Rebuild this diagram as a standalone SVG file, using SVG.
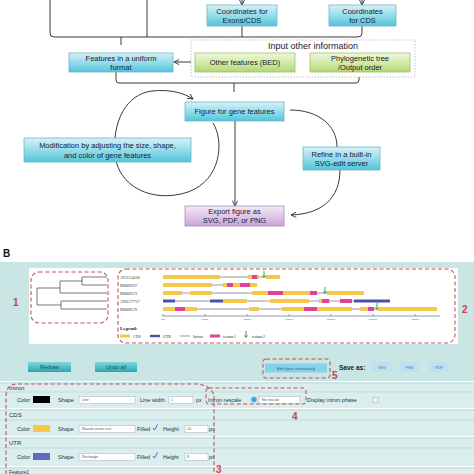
<svg xmlns="http://www.w3.org/2000/svg" width="474" height="474" viewBox="0 0 474 474">
<defs>
<linearGradient id="gc" x1="0" y1="0" x2="0" y2="1"><stop offset="0" stop-color="#d6f2f8"/><stop offset="0.5" stop-color="#96dcea"/><stop offset="1" stop-color="#52c4da"/></linearGradient>
<linearGradient id="gg" x1="0" y1="0" x2="0" y2="1"><stop offset="0" stop-color="#f0f8dc"/><stop offset="0.5" stop-color="#d3eaa8"/><stop offset="1" stop-color="#b2d777"/></linearGradient>
<linearGradient id="gp" x1="0" y1="0" x2="0" y2="1"><stop offset="0" stop-color="#f4e9f7"/><stop offset="0.5" stop-color="#e0c7ea"/><stop offset="1" stop-color="#c9a2d8"/></linearGradient>
<linearGradient id="gb" x1="0" y1="0" x2="0" y2="1"><stop offset="0" stop-color="#7fd8dc"/><stop offset="1" stop-color="#2aa6b0"/></linearGradient>
<marker id="ah" viewBox="0 0 8 8" refX="7.5" refY="4" markerWidth="6" markerHeight="6" markerUnits="userSpaceOnUse" orient="auto"><path d="M0.5,0.5 L7.5,4 L0.5,7.5" fill="none" stroke="#333" stroke-width="1.2"/></marker>
</defs>
<style>
text{font-family:"Liberation Sans",Arial,sans-serif;}
.bt{font-size:7.5px;fill:#17222f;text-anchor:middle;}
.cy{fill:url(#gc);stroke:#6cb6c6;stroke-width:0.8;}
.gr{fill:url(#gg);stroke:#9cc46a;stroke-width:0.8;}
.pu{fill:url(#gp);stroke:#a98cb8;stroke-width:0.8;}
.ln{fill:none;stroke:#3a3a3a;stroke-width:1;}
.rd{fill:none;stroke:#c4545a;stroke-width:1.1;stroke-dasharray:4 2.5;}
.rl{font-size:10px;font-weight:bold;fill:#d0404a;}
.gn{stroke:#7c7c92;stroke-width:0.8;}
.cds{fill:#f6c84a;}
.utr{fill:#4e50a8;}
.f1{fill:#e0409a;}
.f2{stroke:#3d9b3d;stroke-width:1;fill:none;}
.nm{font-family:"Liberation Serif",serif;font-size:4px;fill:#333;}
.tk{font-family:"Liberation Serif",serif;font-size:2.8px;fill:#555;text-anchor:middle;}
.fm{font-size:5.5px;fill:#263636;}
.hd{font-size:6px;fill:#263636;}
.sel{fill:#ffffff;stroke:#a8b0b0;stroke-width:0.5;}
.st{font-size:3.6px;fill:#555;}
.sep{stroke:#ffffff;stroke-width:1.2;}
.sep2{stroke:#b9d2d1;stroke-width:0.7;}
.tree{stroke:#555;stroke-width:0.8;fill:none;}
</style>
<rect width="474" height="474" fill="#ffffff"/>

<g id="connectors">
<path class="ln" d="M50,0 V33 Q50,37 54,37 H358 Q362,37 362,33 V26"/>
<path class="ln" d="M147,0 V37"/>
<path class="ln" d="M242,26 V37"/>
<path class="ln" d="M121,37 V45"/>
<path class="ln" d="M242,0 V5" marker-end="url(#ah)"/>
<path class="ln" d="M362,0 V5" marker-end="url(#ah)"/>
<path class="ln" d="M195,62 H174" marker-end="url(#ah)"/>
<path class="ln" d="M116,72 V80 Q116,83 119,83 H356 Q359,83 359,80 V72"/>
<path class="ln" d="M234,83 V92"/>
<path class="ln" d="M213,123 C224,140 222,180 188,192 C152,204 118,186 115,155 C112,122 126,94 152,91 C170,89 184,93 193,99" marker-end="url(#ah)"/>
<path class="ln" d="M235,121 V206" marker-end="url(#ah)"/>
<path class="ln" d="M290,110 C318,110 337,125 337,147"/>
<path class="ln" d="M340,170 C340,198 322,214 291,215" marker-end="url(#ah)"/>
</g>

<g id="n-exons"><rect class="cy" x="207" y="5" width="70" height="21"/><text class="bt" x="242" y="13.5">Coordinates for</text><text class="bt" x="242" y="23">Exons/CDS</text></g>
<g id="n-cds"><rect class="cy" x="329" y="5" width="67" height="21"/><text class="bt" x="362.5" y="13.5">Coordinates</text><text class="bt" x="362.5" y="23">for CDS</text></g>
<g id="n-input"><rect x="191" y="40" width="224" height="37" fill="#ffffff" stroke="#aaaaaa" stroke-width="0.7" stroke-dasharray="1.5 1.5"/><text x="313" y="48.5" style="font-size:9px;fill:#17222f;text-anchor:middle">Input other information</text></g>
<g id="n-features"><rect class="cy" x="69" y="53" width="104" height="19"/><text class="bt" x="121" y="60.5">Features in a uniform</text><text class="bt" x="121" y="69.5">format</text></g>
<g id="n-bed"><rect class="gr" x="195" y="53" width="100" height="19"/><text class="bt" x="245" y="65">Other features (BED)</text></g>
<g id="n-phylo"><rect class="gr" x="310" y="53" width="100" height="19"/><text class="bt" x="360" y="60.5">Phylogenetic tree</text><text class="bt" x="360" y="69.5">/Output order</text></g>
<g id="n-figure"><rect class="cy" x="185" y="102" width="99" height="19"/><text class="bt" x="234.5" y="114">Figure for gene features</text></g>
<g id="n-modif"><rect class="cy" x="24" y="138" width="167" height="24"/><text class="bt" x="107.5" y="148">Modification by adjusting the size, shape,</text><text class="bt" x="107.5" y="158">and color of gene features</text></g>
<g id="n-refine"><rect class="cy" x="303" y="147" width="77" height="23"/><text class="bt" x="341.5" y="156.5">Refine in a built-in</text><text class="bt" x="341.5" y="166">SVG-edit server</text></g>
<g id="n-export"><rect class="pu" x="185" y="206" width="99" height="20"/><text class="bt" x="234.5" y="213.8">Export figure as</text><text class="bt" x="234.5" y="223.3">SVG, PDF, or PNG</text></g>

<!-- Panel B -->
<text x="3" y="257" style="font-size:10px;font-weight:bold;fill:#111">B</text>
<rect x="0" y="262" width="474" height="212" fill="#c9e5e4"/>
<rect x="0" y="381" width="474" height="93" fill="#d9eeed"/>
<rect x="29" y="268" width="429" height="76" fill="#ffffff"/>

<g id="tree">
<path class="tree" d="M37,288 V305 M37,288 H60 M60,281 V293 M60,281 H82 M82,277 V285 M82,277 H107 M82,285 H107 M60,293 H107 M37,305 H61 M61,301 V309 M61,301 H107 M61,309 H107"/>
</g>
<rect class="rd" x="31" y="272" width="77" height="51" rx="8"/>
<text class="rl" x="13" y="306">1</text>

<g id="genes">
<text class="nm" x="120" y="278.5">AT5G14560</text>
<text class="nm" x="120" y="286.5">BR009597</text>
<text class="nm" x="120" y="294.5">BR009573</text>
<text class="nm" x="120" y="302.5">AT0G77757</text>
<text class="nm" x="120" y="310.5">BR009576</text>
<line class="gn" x1="163" y1="277" x2="280" y2="277"/>
<rect class="cds" x="163" y="275" width="57" height="4"/>
<rect class="cds" x="248" y="275" width="11" height="4"/>
<rect class="f1" x="252" y="275" width="5" height="4"/>
<path class="f2" d="M264,271 V277 M262.5,275.5 L264,277.5 L265.5,275.5"/>
<rect class="cds" x="266" y="275" width="14" height="4"/>
<line class="gn" x1="163" y1="285" x2="257" y2="285"/>
<rect class="cds" x="163" y="283" width="49" height="4"/>
<rect class="cds" x="223" y="283" width="34" height="4"/>
<rect class="f1" x="227" y="283" width="6" height="4"/>
<rect class="f1" x="240" y="283" width="10" height="4"/>
<line class="gn" x1="163" y1="293" x2="364" y2="293"/>
<rect class="cds" x="163" y="291" width="19" height="4"/>
<rect class="cds" x="190" y="291" width="22" height="4"/>
<rect class="cds" x="252" y="291" width="58" height="4"/>
<rect class="f1" x="268" y="291" width="15" height="4"/>
<rect class="f1" x="310" y="291" width="7" height="4"/>
<path class="f2" d="M325,287 V293 M323.5,291.5 L325,293.5 L326.5,291.5"/>
<rect class="cds" x="327" y="291" width="37" height="4"/>
<line class="gn" x1="163" y1="301" x2="390" y2="301"/>
<rect class="utr" x="163" y="299.5" width="12" height="3"/>
<rect class="utr" x="210" y="299.5" width="13" height="3"/>
<rect class="cds" x="223" y="299" width="24" height="4"/>
<rect class="cds" x="270" y="299" width="39" height="4"/>
<rect class="cds" x="319" y="299" width="11" height="4"/>
<rect class="f1" x="322" y="299" width="7" height="4"/>
<rect class="f1" x="340" y="299" width="12" height="4"/>
<rect class="utr" x="354" y="299.5" width="36" height="3"/>
<line class="gn" x1="163" y1="309" x2="437" y2="309"/>
<rect class="cds" x="163" y="307" width="34" height="4"/>
<rect class="f1" x="175" y="307" width="10" height="4"/>
<rect class="cds" x="249" y="307" width="10" height="4"/>
<rect class="cds" x="282" y="307" width="70" height="4"/>
<rect class="f1" x="304" y="307" width="13" height="4"/>
<rect class="cds" x="360" y="307" width="14" height="4"/>
<rect class="f1" x="368" y="307" width="6" height="4"/>
<path class="f2" d="M377,303 V309 M375.5,307.5 L377,309.5 L378.5,307.5"/>
<rect class="cds" x="378" y="307" width="59" height="4"/>
<line class="gn" x1="163" y1="316" x2="440" y2="316"/>
<path class="gn" d="M163,316 V314 M205,316 V314 M247,316 V314 M289,316 V314 M331,316 V314 M373,316 V314 M415,316 V314"/>
<text class="tk" x="163" y="319.5">0bp</text>
<text class="tk" x="205" y="319.5">500bp</text>
<text class="tk" x="247" y="319.5">1000bp</text>
<text class="tk" x="289" y="319.5">1500bp</text>
<text class="tk" x="331" y="319.5">2000bp</text>
<text class="tk" x="373" y="319.5">2500bp</text>
<text class="tk" x="415" y="319.5">3000bp</text>
<text x="120" y="330" style="font-family:'Liberation Serif',serif;font-size:5px;font-weight:bold;fill:#222">Legend:</text>
<rect class="cds" x="120" y="334.5" width="10" height="3"/><text class="nm" x="133" y="337.5">CDS</text>
<rect class="utr" x="150" y="334.8" width="10" height="2.4"/><text class="nm" x="163" y="337.5">UTR</text>
<line class="gn" x1="180" y1="336" x2="190" y2="336"/><text class="nm" x="193" y="337.5">Intron</text>
<rect class="f1" x="210" y="334.5" width="10" height="3"/><text class="nm" x="223" y="337.5">feature1</text>
<path class="f2" d="M246,331 V337 M244.5,335.5 L246,337.5 L247.5,335.5"/><text class="nm" x="252" y="337.5">feature2</text>
</g>
<rect class="rd" x="118" y="269" width="337" height="74" rx="8"/>
<text class="rl" x="462" y="313">2</text>

<g id="buttons">
<rect x="28" y="362" width="43" height="10" fill="url(#gb)"/><text x="49.5" y="369.3" style="font-size:5.5px;fill:#17555e;text-anchor:middle">Redraw</text>
<rect x="95" y="362" width="42" height="10" fill="url(#gb)"/><text x="116" y="369.3" style="font-size:5.5px;fill:#17555e;text-anchor:middle">Undo all</text>
<rect x="265" y="363.5" width="62" height="9" fill="#86d2ea"/><text x="296" y="369.5" style="font-size:3.8px;fill:#2b5f88;text-anchor:middle">Edit figure interactively</text>
<rect class="rd" x="263" y="359" width="67" height="19" rx="3"/>
<text class="rl" x="332" y="379">5</text>
<text x="339" y="370" style="font-size:6.5px;font-weight:bold;fill:#222">Save as:</text>
<rect x="372" y="362" width="20" height="10" rx="1.5" fill="#bfe0ee"/><text x="382" y="368.6" style="font-size:3.8px;fill:#3b7fae;text-anchor:middle">SVG</text>
<rect x="400" y="362" width="19" height="10" rx="1.5" fill="#bfe0ee"/><text x="409.5" y="368.6" style="font-size:3.8px;fill:#3b7fae;text-anchor:middle">PNG</text>
<rect x="429" y="362" width="20" height="10" rx="1.5" fill="#bfe0ee"/><text x="439" y="368.6" style="font-size:3.8px;fill:#3b7fae;text-anchor:middle">PDF</text>
</g>

<g id="form">
<line class="sep" x1="0" y1="381.5" x2="474" y2="381.5"/>
<line class="sep2" x1="0" y1="383" x2="474" y2="383"/>
<text class="hd" x="9" y="390">Intron</text>
<line class="sep2" x1="0" y1="392" x2="474" y2="392"/>
<text class="fm" x="17" y="402">Color</text>
<rect x="33" y="396" width="17" height="7" fill="#000000"/>
<text class="fm" x="58" y="402">Shape</text>
<rect class="sel" x="79" y="396.5" width="56" height="7"/><text class="st" x="82" y="401.3">Line</text><text class="st" x="130" y="401.3">:</text>
<text class="fm" x="140" y="402">Line width</text>
<rect class="sel" x="169" y="396.5" width="24" height="7"/><text class="st" x="171" y="401.3">1</text>
<text class="fm" x="196" y="402">px</text>
<text class="fm" x="208" y="402">Intron rescale</text>
<circle cx="254" cy="399.5" r="3" fill="#3ea4d8" stroke="#bfe4f2" stroke-width="0.6"/>
<rect class="sel" x="259" y="396.5" width="41" height="7"/><text class="st" x="262" y="401.3">No rescale</text><text class="st" x="295" y="401.3">:</text>
<text class="fm" x="307" y="402">Display intron phase</text>
<rect x="373" y="397.5" width="5" height="5" fill="#f4f8f8" stroke="#9aa" stroke-width="0.5"/>
<line class="sep" x1="0" y1="408.5" x2="474" y2="408.5"/>
<line class="sep2" x1="0" y1="410" x2="474" y2="410"/>
<text class="hd" x="9" y="417">CDS</text>
<line class="sep2" x1="0" y1="420" x2="474" y2="420"/>
<text class="fm" x="17" y="431">Color</text>
<rect x="33" y="425" width="17" height="7" fill="#f6c84a"/>
<text class="fm" x="58" y="431">Shape</text>
<rect class="sel" x="79" y="425.5" width="56" height="7"/><text class="st" x="82" y="430.3">Round-corner rect.</text><text class="st" x="130" y="430.3">:</text>
<text class="fm" x="137" y="431">Filled</text>
<path d="M153,428 L154.5,430 L157.5,424.5" fill="none" stroke="#3050c0" stroke-width="0.9"/>
<text class="fm" x="163" y="431">Height</text>
<rect class="sel" x="185" y="425.5" width="23" height="7"/><text class="st" x="187" y="430.3">10</text>
<text class="fm" x="209" y="431">px</text>
<line class="sep" x1="0" y1="436.5" x2="474" y2="436.5"/>
<line class="sep2" x1="0" y1="438" x2="474" y2="438"/>
<text class="hd" x="9" y="445">UTR</text>
<line class="sep2" x1="0" y1="448" x2="474" y2="448"/>
<text class="fm" x="17" y="459">Color</text>
<rect x="33" y="453" width="17" height="7" fill="#6466c4"/>
<text class="fm" x="58" y="459">Shape</text>
<rect class="sel" x="79" y="453.5" width="56" height="7"/><text class="st" x="82" y="458.3">Rectangle</text><text class="st" x="130" y="458.3">:</text>
<text class="fm" x="137" y="459">Filled</text>
<path d="M153,456 L154.5,458 L157.5,452.5" fill="none" stroke="#3050c0" stroke-width="0.9"/>
<text class="fm" x="163" y="459">Height</text>
<rect class="sel" x="185" y="453.5" width="23" height="7"/><text class="st" x="187" y="458.3">8</text>
<text class="fm" x="209" y="459">px</text>
<line class="sep" x1="0" y1="466.5" x2="474" y2="466.5"/>
<line class="sep2" x1="0" y1="468" x2="474" y2="468"/>
<text x="9" y="473.5" style="font-size:5px;fill:#263636">Feature1</text>
</g>

<path class="rd" d="M6,474 V396 Q6,384 18,384 H196 Q210,385 214,395 V474"/>
<text class="rl" x="216" y="473">3</text>
<rect class="rd" x="206" y="388" width="100" height="16" rx="3"/>
<text class="rl" x="292" y="420">4</text>
</svg>
